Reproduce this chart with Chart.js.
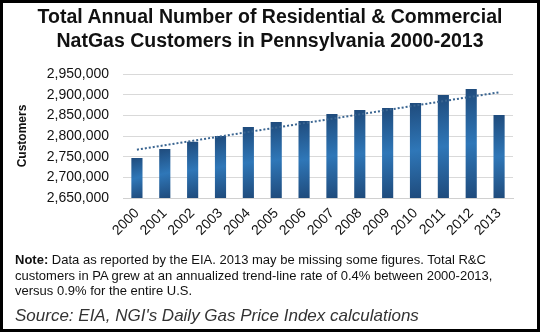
<!DOCTYPE html>
<html>
<head>
<meta charset="utf-8">
<script src="https://cdn.jsdelivr.net/npm/chart.js@4.4.1/dist/chart.umd.min.js"></script>
<style>
  html, body { margin: 0; padding: 0; background: #fff; }
  #wrap { position: relative; width: 540px; height: 332px; box-sizing: border-box; border: 3px solid #000; background: #fff; overflow: hidden; font-family: "Liberation Sans", Arial, sans-serif; }
  #c { position: absolute; left: -3px; top: -3px; }
  .title { position: absolute; left: 0; width: 534px; text-align: center; font-weight: bold; font-size: 19.5px; color: #111; white-space: nowrap; }
  .note { position: absolute; left: 12px; font-size: 13px; color: #111; white-space: nowrap; line-height: 15.5px; }
  .src { position: absolute; left: 12px; font-size: 17px; font-style: italic; color: #333; white-space: nowrap; }
</style>
</head>
<body>
<div id="wrap">
  <canvas id="c" width="540" height="332"></canvas>
  <div class="title" style="top:2px;">Total Annual Number of Residential &amp; Commercial</div>
  <div class="title" style="top:26px;">NatGas Customers in Pennsylvania 2000-2013</div>
  <div class="note" style="top:249px;"><b>Note:</b> Data as reported by the EIA. 2013 may be missing some figures. Total R&amp;C<br>customers in PA grew at an annualized trend-line rate of 0.4% between 2000-2013,<br>versus 0.9% for the entire U.S.</div>
  <div class="src" style="top:303px;">Source: EIA, NGI's Daily Gas Price Index calculations</div>
</div>
<script>
const years = ["2000","2001","2002","2003","2004","2005","2006","2007","2008","2009","2010","2011","2012","2013"];
const customers = [2747000, 2768500, 2786000, 2800000, 2821700, 2833800, 2836000, 2853000, 2863000, 2867700, 2879800, 2899000, 2913700, 2850800];
const trendline = [2767000, null, null, null, null, null, null, null, null, null, null, null, null, 2905700];
const yTicks = [2650000, 2700000, 2750000, 2800000, 2850000, 2900000, 2950000];

function barFill(ctx) {
  const chart = ctx.chart;
  const area = chart.chartArea;
  if (!area || ctx.type !== 'data') return '#2e75b6';
  const xs = chart.scales.x, ys = chart.scales.y;
  const xc = xs.getPixelForValue(ctx.dataIndex);
  const yt = ys.getPixelForValue(ctx.raw);
  const yb = area.bottom;
  const w = 11;
  const g = chart.ctx.createLinearGradient(xc - w / 2, yt, xc + w / 2, yb);
  g.addColorStop(0, '#1f4b7c');
  g.addColorStop(0.5, '#2f77b8');
  g.addColorStop(1, '#1f4b7c');
  return g;
}

new Chart(document.getElementById('c'), {
  data: {
    labels: years,
    datasets: [
      {
        type: 'line',
        data: trendline,
        spanGaps: true,
        borderColor: '#3a6591',
        borderWidth: 2,
        borderDash: [2, 2],
        pointRadius: 0,
        fill: false,
        order: 0
      },
      {
        type: 'bar',
        data: customers,
        backgroundColor: barFill,
        barPercentage: 0.4,
        categoryPercentage: 1.0,
        order: 1
      }
    ]
  },
  options: {
    responsive: false,
    animation: false,
    layout: { padding: { left: 3, right: 27, top: 74, bottom: 0 } },
    plugins: { legend: { display: false }, tooltip: { enabled: false } },
    scales: {
      x: {
        grid: { display: false, drawTicks: false },
        border: { display: true, color: '#d0d0d0', width: 1 },
        ticks: {
          color: '#111',
          font: { family: 'Liberation Sans', size: 14 },
          maxRotation: 45, minRotation: 45,
          autoSkip: false,
          padding: 7
        },
        afterFit: (s) => { s.height = 134; }
      },
      y: {
        min: 2650000, max: 2950000,
        afterBuildTicks: (s) => { s.ticks = yTicks.map(v => ({ value: v })); },
        grid: { color: '#d9d9d9', lineWidth: 1, drawTicks: false },
        border: { display: false },
        ticks: {
          color: '#111',
          font: { family: 'Liberation Sans', size: 14 },
          padding: 14,
          callback: (v) => v.toLocaleString('en-US')
        },
        title: {
          display: true,
          text: 'Customers',
          color: '#111',
          font: { family: 'Liberation Sans', size: 12, weight: 'bold' },
          padding: { top: 12, bottom: 0 }
        },
        afterFit: (s) => { s.width = 120; }
      }
    }
  }
});
</script>
</body>
</html>
